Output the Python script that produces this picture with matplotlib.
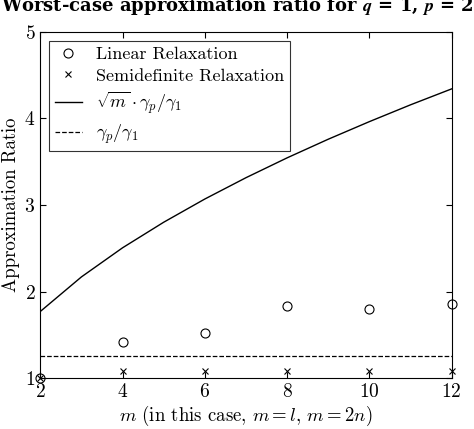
import matplotlib as mpl
import matplotlib.pyplot as plt

mpl.use("Agg")
plt.rcParams["font.family"] = "serif"
plt.rcParams["font.serif"] = ["cmr10", "DejaVu Serif"]
plt.rcParams["mathtext.fontset"] = "cm"
plt.rcParams["axes.formatter.use_mathtext"] = True
plt.rcParams["axes.unicode_minus"] = False

m_pts = [2, 4, 6, 8, 10, 12]
linear = [1.0, 1.42, 1.52, 1.83, 1.80, 1.86]
sdp = [1.0, 1.08, 1.08, 1.08, 1.08, 1.08]
m_curve = [2, 3, 4, 5, 6, 7, 8, 9, 10, 11, 12]
sqrt_bound = [1.772, 2.171, 2.507, 2.802, 3.070, 3.316, 3.545, 3.760, 3.963, 4.157, 4.341]
gamma_ratio = [1.2533, 1.2533]
gamma_m = [2, 12]

fig = plt.figure(figsize=(4.74, 4.29), dpi=100)
ax = fig.add_axes([0.085, 0.118, 0.868, 0.808])

ax.plot(m_pts, linear, "o", mfc="none", mec="black", ms=6.5, mew=0.8,
        label="Linear Relaxation", clip_on=False, zorder=5)
ax.plot(m_pts, sdp, "x", color="black", ms=4.5, mew=0.8,
        label="Semidefinite Relaxation", clip_on=False, zorder=5)
ax.plot(m_curve, sqrt_bound, "-", color="black", lw=1.0, label=r"$\sqrt{m}\cdot\gamma_p/\gamma_1$")
ax.plot(gamma_m, gamma_ratio, "--", color="black", lw=0.9, label=r"$\gamma_p/\gamma_1$")

ax.set_xlim(2, 12)
ax.set_ylim(1, 5)
ax.set_xticks([2, 4, 6, 8, 10, 12])
ax.set_yticks([1, 2, 3, 4, 5])
ax.tick_params(direction="in", labelsize=14, top=True, right=True, length=4)
ax.set_xlabel(r"$m$ (in this case, $m=l$, $m=2n$)", fontsize=13.5, labelpad=2)
ax.set_ylabel("Approximation Ratio", fontsize=13.5, labelpad=3)

leg = ax.legend(loc="upper left", fontsize=13, frameon=True, fancybox=False,
                edgecolor="black", borderaxespad=0.5, handlelength=1.5,
                labelspacing=0.35, borderpad=0.3)
leg.get_frame().set_linewidth(0.8)

fig.text(0.5, 0.985, r"Worst-case approximation ratio for $\boldsymbol{q}$ = 1, $\boldsymbol{p}$ = 2",
         ha="center", va="center", fontsize=13, fontweight="bold", family="DejaVu Serif")

fig.savefig("out.png", dpi=100)
